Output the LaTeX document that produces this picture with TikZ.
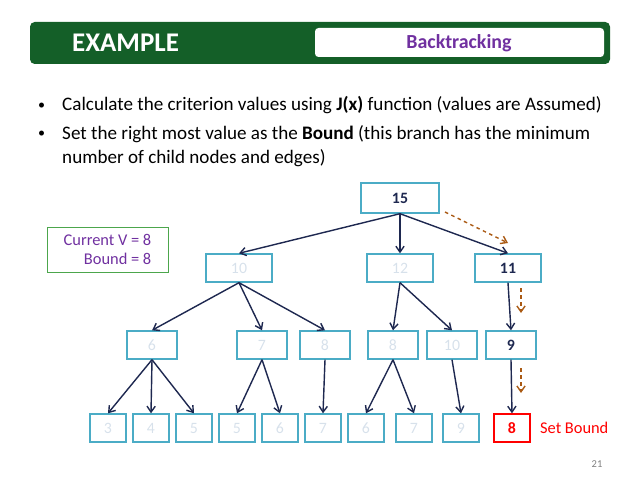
\documentclass[tikz,border=0pt]{standalone}
\usepackage{fontspec}
\setmainfont{Carlito}
\usetikzlibrary{arrows.meta}
\definecolor{dkgreen}{RGB}{20,95,40}
\definecolor{bdr}{RGB}{75,172,198}
\definecolor{navy}{RGB}{30,40,80}
\definecolor{pale}{RGB}{215,225,235}
\definecolor{purp}{RGB}{112,48,160}
\definecolor{brn}{RGB}{170,90,20}
\tikzset{
 bx/.style={draw=bdr,line width=1.2pt,minimum height=28*0.03cm,inner sep=0pt,font=\fontsize{13.5}{14}\selectfont,text=pale},
 l2/.style={bx,minimum width=66*0.03cm},
 l3/.style={bx,minimum width=50*0.03cm},
 l4/.style={bx,minimum width=36*0.03cm},
 ed/.style={draw=navy,line width=1.2pt,-{Straight Barb[length=5pt,width=7pt]}},
 da/.style={draw=brn,line width=1.2pt,dashed,-{Straight Barb[length=5pt,width=7pt]}},
 body/.style={anchor=west,inner sep=0pt,font=\fontsize{16.3}{21}\selectfont}
}
\begin{document}
\begin{tikzpicture}[x=0.03cm,y=-0.03cm]
\useasboundingbox (0,0) rectangle (638,478);
\fill[dkgreen,rounded corners=4pt] (30,22) rectangle (610,64);
\fill[white,rounded corners=3pt] (315,28) rectangle (604,57);
\node[anchor=west,text=white,font=\fontsize{23}{24}\selectfont\bfseries] (ex) at (68,43) {EXAMPLE};
\node[text=purp,font=\fontsize{17}{18}\selectfont\bfseries] (bt) at (459,43) {Backtracking};
\node[body,font=\fontsize{12}{12}\selectfont] (b1) at (38,106) {•};
\node[body] (t1) at (62,105) {Calculate the criterion values using \textbf{J(x)} function (values are Assumed)};
\node[body,font=\fontsize{12}{12}\selectfont] (b2) at (38,134) {•};
\node[body,align=left] (t2) at (62,146) {Set the right most value as the \textbf{Bound} (this branch has the minimum\\number of child nodes and edges)};
\node[draw=green!50!black!70,line width=0.6pt,minimum width=121*0.03cm,minimum height=45*0.03cm,font=\fontsize{14}{16}\selectfont,text=purp,align=right,inner sep=2pt] (cv) at (107.5,249.5) {Current V = 8\\Bound = 8};
\node[l2,minimum width=78*0.03cm,minimum height=30*0.03cm] (r) at (400,198) {\textcolor{navy}{\bfseries 15}};
\node[l2] (a) at (239,268) {10};
\node[l2] (b) at (400,268) {12};
\node[l2] (c) at (508,268) {\textcolor{navy}{\bfseries 11}};
\node[l3] (a1) at (152,345) {6};
\node[l3] (a2) at (262,345) {7};
\node[l3] (a3) at (325,345) {8};
\node[l3] (b1n) at (393,345) {8};
\node[l3] (b2n) at (452,345) {10};
\node[l3] (c1) at (511,345) {\textcolor{navy}{\bfseries 9}};
\foreach \n/\x/\v in {d1/108/3,d2/151/4,d3/194/5,d4/237/5,d5/280/6,d6/323/7,d7/366/6,d8/414/7,d9/461/9}
  \node[l4] (\n) at (\x,428) {\v};
\node[l4,draw=red] (d10) at (512,428) {\textcolor{red}{\bfseries 8}};
\node[anchor=west,text=red,font=\fontsize{14}{15}\selectfont] (sb) at (536,428) {Set Bound};
\node[text=gray,font=\fontsize{9}{10}\selectfont] (pg) at (597,464) {21};
\draw[ed] (r.south) -- (a.north);
\draw[ed] (r.south) -- (b.north);
\draw[ed] (r.south) -- (c.north);
\draw[ed] (a.south) -- (a1.north);
\draw[ed] (a.south) -- (a2.north);
\draw[ed] (a.south) -- (a3.north);
\draw[ed] (b.south) -- (b1n.north);
\draw[ed] (b.south) -- (b2n.north);
\draw[ed] (c.south) -- (c1.north);
\draw[ed] (a1.south) -- (d1.north);
\draw[ed] (a1.south) -- (d2.north);
\draw[ed] (a1.south) -- (d3.north);
\draw[ed] (a2.south) -- (d4.north);
\draw[ed] (a2.south) -- (d5.north);
\draw[ed] (a3.south) -- (d6.north);
\draw[ed] (b1n.south) -- (d7.north);
\draw[ed] (b1n.south) -- (d8.north);
\draw[ed] (b2n.south) -- (d9.north);
\draw[ed] (c1.south) -- (d10.north);
\coordinate (p1) at (445,212); \coordinate (p2) at (508,243);
\coordinate (p3) at (521,288); \coordinate (p4) at (521,313);
\coordinate (p5) at (521,368); \coordinate (p6) at (521,393);
\draw[da] (p1) -- (p2);
\draw[da] (p3) -- (p4);
\draw[da] (p5) -- (p6);
\end{tikzpicture}
\end{document}
